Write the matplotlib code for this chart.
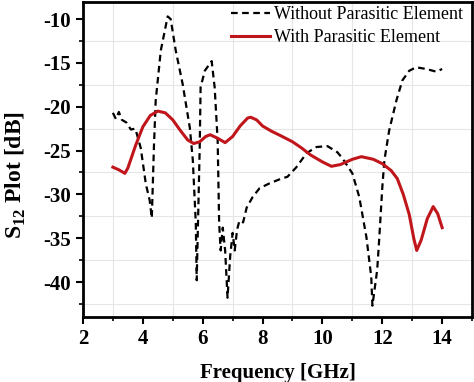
import matplotlib
matplotlib.use('Agg')
import matplotlib.pyplot as plt
from matplotlib.ticker import MultipleLocator

plt.rcParams['font.family'] = 'Liberation Serif'
plt.rcParams['mathtext.fontset'] = 'custom'
plt.rcParams['mathtext.rm'] = 'Liberation Serif:bold'
plt.rcParams['mathtext.bf'] = 'Liberation Serif:bold'
plt.rcParams['axes.unicode_minus'] = False

# Without parasitic element (dashed black)
freq_wo = [3.0, 3.1, 3.2, 3.3, 3.45, 3.6, 3.75, 3.93, 4.1, 4.23, 4.3, 4.37, 4.43,
           4.6, 4.83, 4.93, 5.1, 5.33, 5.57, 5.67, 5.77, 5.8, 5.9, 5.93, 6.07,
           6.3, 6.4, 6.5, 6.55, 6.6, 6.67, 6.75, 6.83, 6.92, 7.0, 7.07, 7.15,
           7.23, 7.35, 7.47, 7.67, 7.9, 8.23, 8.63, 8.83, 9.13, 9.47, 9.8,
           10.17, 10.5, 10.67, 11.0, 11.23, 11.47, 11.63, 11.67, 11.83, 11.9,
           12.0, 12.07, 12.23, 12.47, 12.67, 12.9, 13.13, 13.47, 13.8, 14.0]
s12_wo = [-20.7, -21.4, -20.6, -21.5, -21.8, -22.6, -22.5, -24.7, -28.8, -30.7, -32.7,
          -24.7, -19.3, -13.6, -9.7, -10.0, -13.6, -17.4, -22.4, -26.1, -33.3,
          -39.8, -24.7, -17.8, -15.9, -14.8, -17.8, -23.9, -33.3, -36.4, -33.8,
          -36.4, -41.8, -37.0, -34.4, -36.4, -34.0, -33.0, -33.2, -31.5, -30.3,
          -29.3, -28.75, -28.2, -28.0, -26.9, -25.3, -24.6, -24.5, -25.2, -25.9,
          -27.6, -30.3, -34.9, -39.4, -42.7, -38.6, -34.9, -29.2, -26.1, -22.7,
          -19.3, -17.0, -15.9, -15.5, -15.7, -16.0, -15.7]

# With parasitic element (solid red)
freq_w = [3.0, 3.2, 3.4, 3.5, 3.75, 4.0, 4.25, 4.5, 4.75, 5.0, 5.25, 5.5, 5.7,
          5.9, 6.1, 6.25, 6.5, 6.75, 7.0, 7.25, 7.5, 7.6, 7.8, 8.0, 8.3, 8.6,
          9.0, 9.3, 9.6, 10.0, 10.3, 10.6, 11.0, 11.3, 11.7, 12.0, 12.3, 12.5,
          12.7, 12.9, 13.05, 13.15, 13.3, 13.5, 13.7, 13.85, 14.0]
s12_w = [-26.9, -27.2, -27.6, -27.0, -24.5, -22.3, -21.0, -20.5, -20.7, -21.5,
         -22.7, -23.8, -24.2, -24.0, -23.4, -23.2, -23.6, -24.1, -23.4, -22.2,
         -21.3, -21.2, -21.5, -22.2, -22.8, -23.3, -24.0, -24.7, -25.5, -26.3,
         -26.8, -26.6, -26.0, -25.7, -26.0, -26.5, -27.3, -28.2, -30.0, -32.3,
         -35.0, -36.4, -35.2, -32.8, -31.4, -32.2, -33.8]

fig = plt.figure(figsize=(4.74, 3.82), dpi=100)
ax = fig.add_axes([0.175, 0.17, 0.821, 0.826])

ax.plot(freq_wo, s12_wo, color='black', linestyle=(0, (3, 2)), linewidth=1.6,
        label='Without Parasitic Element')
ax.plot(freq_w, s12_w, color='#c0161b', linewidth=2.2,
        label='With Parasitic Element')

ax.set_xlim(2, 15)
ax.set_ylim(-44, -8)
ax.xaxis.set_major_locator(MultipleLocator(2))
ax.xaxis.set_minor_locator(MultipleLocator(1))
ax.yaxis.set_major_locator(MultipleLocator(5))
ax.yaxis.set_minor_locator(MultipleLocator(2.5))
ax.grid(True, which='minor', color='#e6e6e6', linewidth=0.8)
ax.tick_params(which='major', direction='out', length=5, width=1.5, labelsize=15)
ax.tick_params(which='minor', direction='out', length=3, width=1.2)
for lab in ax.get_xticklabels() + ax.get_yticklabels():
    lab.set_fontweight('bold')
for sp in ax.spines.values():
    sp.set_linewidth(2)

ax.set_xlabel('Frequency [GHz]', fontsize=15, fontweight='bold', labelpad=10)
ax.set_ylabel('S$_{12}$ Plot [dB]', fontsize=17, fontweight='bold')
ax.yaxis.set_label_coords(-0.14, 0.45)

ax.legend(loc='upper right', frameon=False, fontsize=13, handlelength=2.2,
          handletextpad=0.2, borderaxespad=0.1, labelspacing=0.35,
          bbox_to_anchor=(1.0, 1.015))

fig.savefig('out.png', dpi=100)
